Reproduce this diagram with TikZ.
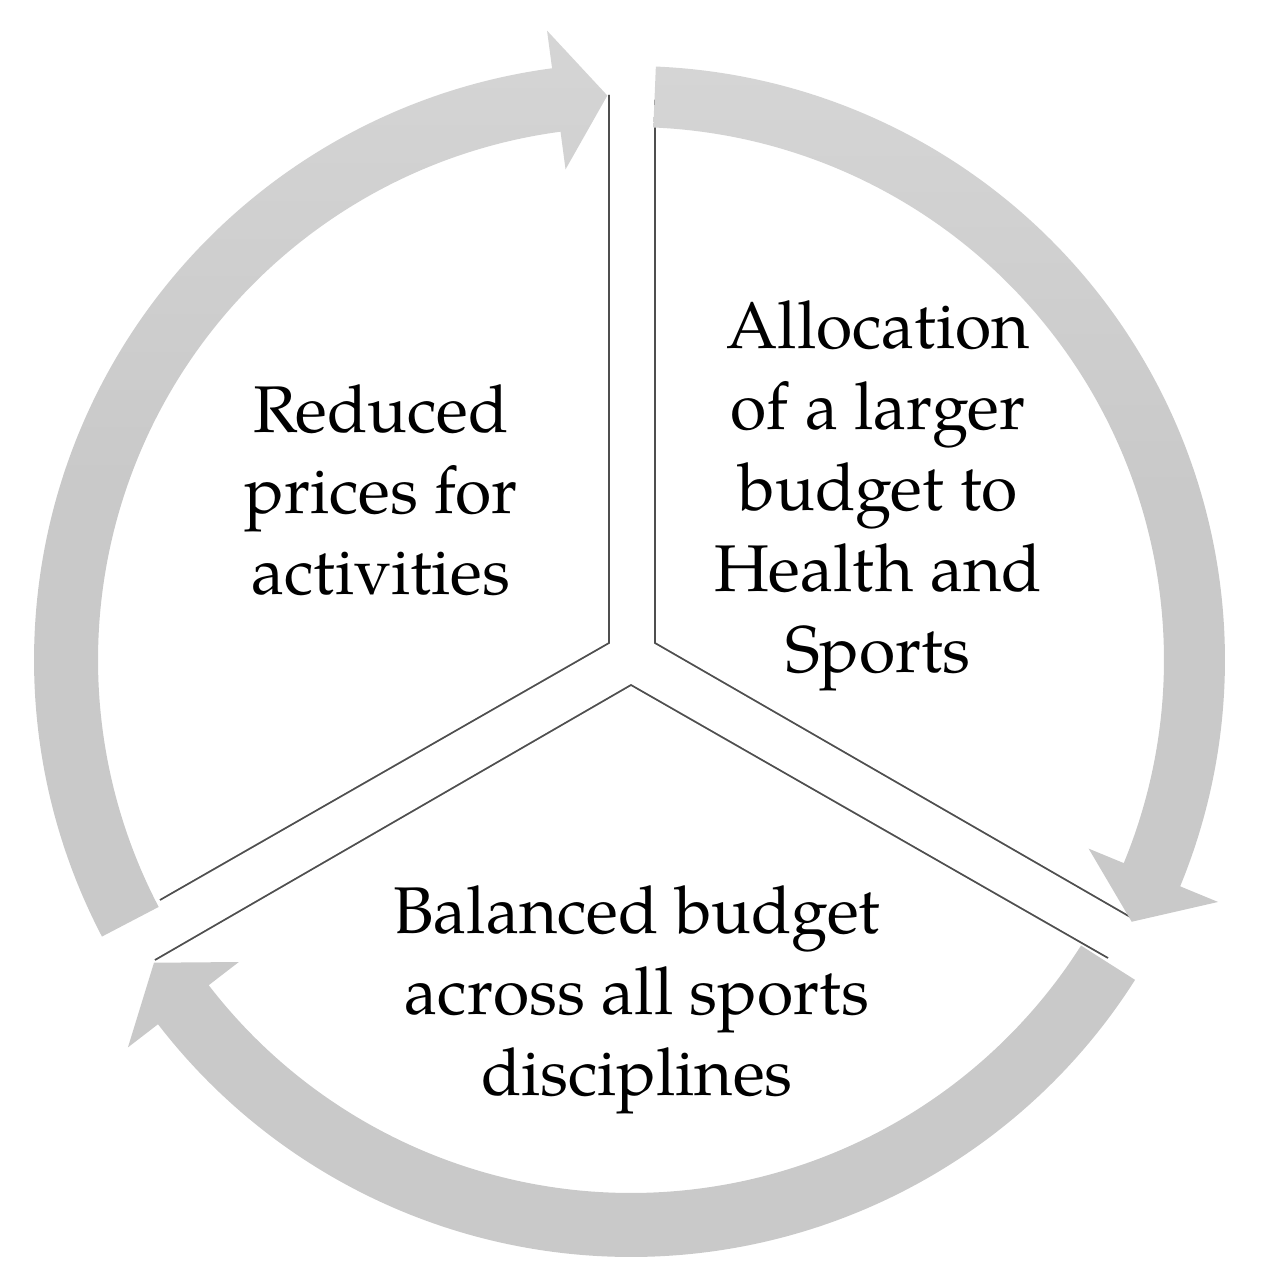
\documentclass[tikz,border=0pt]{standalone}
\usepackage{fontspec}
\setmainfont{TeX Gyre Pagella}
\definecolor{band}{HTML}{C9C9C9}
\definecolor{bandtop}{HTML}{D5D5D5}
\definecolor{edge}{HTML}{4F4F4F}
\definecolor{edgeshade}{HTML}{B2B2B2}
\tikzset{
  ringfill/.style={fill=band, draw=none},
  ringshade/.style={top color=bandtop, bottom color=band, middle color=band, draw=none},
  edgeline/.style={draw=edge, line width=1.6pt, line join=miter},
  edgeshadow/.style={draw=edgeshade, line width=1.6pt, line join=miter},
  txt/.style={font=\fontsize{66}{81}\selectfont, align=center, inner sep=0pt, text=black}
}
\begin{document}
\begin{tikzpicture}[x=1pt,y=1pt]
\useasboundingbox (-631,-628) rectangle (631,660);
% slice edges
\coordinate (Ltop) at (-22,565);
\coordinate (Lc) at (-22,17);
\coordinate (Lend) at (-471,-240);
\coordinate (Rtop) at (24,560);
\coordinate (Rc) at (24,17);
\coordinate (Rend) at (501,-258);
\coordinate (Bl) at (-476,-300);
\coordinate (Bc) at (0,-25);
\coordinate (Br) at (477,-298);
\draw[edgeshadow, shift={(150:1.8)}] (Ltop) -- (Lc) -- (Lend);
\draw[edgeshadow, shift={(30:1.8)}] (Rtop) -- (Rc) -- (Rend);
\draw[edgeshadow, shift={(270:1.8)}] (Bl) -- (Bc) -- (Br);
\draw[edgeline] (Ltop) -- (Lc) -- (Lend);
\draw[edgeline] (Rtop) -- (Rc) -- (Rend);
\draw[edgeline] (Bl) -- (Bc) -- (Br);
% ring arrows
\path[ringshade] (207.6:597) arc[start angle=207.6, end angle=97.6, radius=597]
  -- (97.6:635) -- (92.4:565) -- (97.6:495) -- (97.6:533)
  arc[start angle=97.6, end angle=207.6, radius=533] -- cycle;
\path[ringshade] (87.6:594) arc[start angle=87.6, end angle=-22.4, radius=594]
  -- (-22.4:635) -- (-27.6:565) -- (-22.4:495) -- (-22.4:533)
  arc[start angle=-22.4, end angle=87.6, radius=533] -- cycle;
\path[ringfill] (-32.4:597) arc[start angle=-32.4, end angle=-142.4, radius=597]
  -- (-142.4:635) -- (-147.6:565) -- (-142.4:495) -- (-142.4:533)
  arc[start angle=-142.4, end angle=-32.4, radius=533] -- cycle;
% texts
\node[txt] (reduced) at (-250,169.5) {Reduced\\prices for\\activities};
\node[txt] (alloc) at (247,164) {Allocation\\of a larger\\budget to\\Health and\\Sports};
\node[txt] (balanced) at (6,-339.5) {Balanced budget\\across all sports\\disciplines};
\end{tikzpicture}
\end{document}
